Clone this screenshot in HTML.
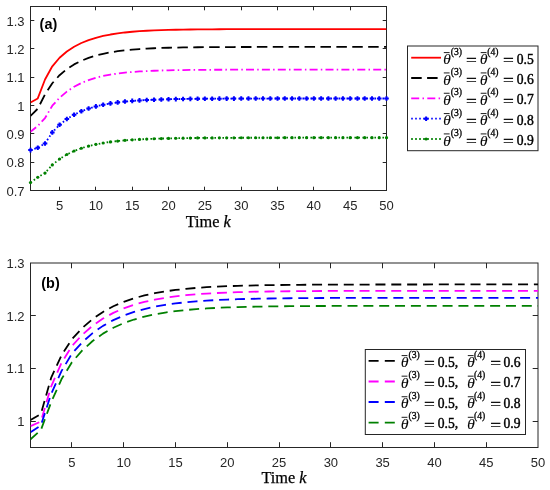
<!DOCTYPE html><html><head><meta charset="utf-8"><style>
html,body{margin:0;padding:0;background:#fff;}svg{display:block;}
.tl{font-family:"Liberation Sans",Arial,sans-serif;font-size:13px;fill:#262626;}
.lab{font-family:"Liberation Serif","Times New Roman",serif;font-size:16.3px;fill:#000;stroke:#000;stroke-width:0.25px;}
.pl{font-family:"Liberation Sans",Arial,sans-serif;font-size:14.4px;font-weight:bold;fill:#000;}
.lg{font-family:"Liberation Serif","Times New Roman",serif;font-size:13.6px;fill:#000;stroke:#000;stroke-width:0.4px;}
.th{font-family:"DejaVu Serif","Liberation Serif",serif;font-size:12.2px;font-style:italic;fill:#000;stroke:#000;stroke-width:0.2px;}
.sp{font-family:"Liberation Serif","Times New Roman",serif;font-size:9.7px;fill:#000;stroke:#000;stroke-width:0.3px;}
.eq{font-family:"Liberation Serif","Times New Roman",serif;font-size:13px;fill:#000;stroke:#000;stroke-width:0.25px;}
.it{font-style:italic;}
</style></head><body>
<svg width="550" height="490" viewBox="0 0 550 490">
<rect width="550" height="490" fill="#fff"/>
<defs><clipPath id="ca"><rect x="30.5" y="6.5" width="356.0" height="184.0"/></clipPath>
<clipPath id="cb"><rect x="30.5" y="263.0" width="507.5" height="184.5"/></clipPath></defs>
<path d="M59.50 190.50V186.70M59.50 6.50V10.30M95.50 190.50V186.70M95.50 6.50V10.30M132.50 190.50V186.70M132.50 6.50V10.30M168.50 190.50V186.70M168.50 6.50V10.30M204.50 190.50V186.70M204.50 6.50V10.30M241.50 190.50V186.70M241.50 6.50V10.30M277.50 190.50V186.70M277.50 6.50V10.30M313.50 190.50V186.70M313.50 6.50V10.30M350.50 190.50V186.70M350.50 6.50V10.30M30.50 190.50H34.30M386.50 190.50H382.70M30.50 162.50H34.30M386.50 162.50H382.70M30.50 133.50H34.30M386.50 133.50H382.70M30.50 105.50H34.30M386.50 105.50H382.70M30.50 77.50H34.30M386.50 77.50H382.70M30.50 48.50H34.30M386.50 48.50H382.70M30.50 20.50H34.30M386.50 20.50H382.70" stroke="#262626" stroke-width="1" fill="none"/>
<rect x="30.50" y="6.50" width="356.00" height="184.00" fill="none" stroke="#262626" stroke-width="1"/>
<text class="tl" x="24.6" y="195.50" text-anchor="end">0.7</text>
<text class="tl" x="24.6" y="167.19" text-anchor="end">0.8</text>
<text class="tl" x="24.6" y="138.88" text-anchor="end">0.9</text>
<text class="tl" x="24.6" y="110.58" text-anchor="end">1</text>
<text class="tl" x="24.6" y="82.27" text-anchor="end">1.1</text>
<text class="tl" x="24.6" y="53.96" text-anchor="end">1.2</text>
<text class="tl" x="24.6" y="25.65" text-anchor="end">1.3</text>
<text class="tl" x="59.56" y="209.60" text-anchor="middle">5</text>
<text class="tl" x="95.89" y="209.60" text-anchor="middle">10</text>
<text class="tl" x="132.21" y="209.60" text-anchor="middle">15</text>
<text class="tl" x="168.54" y="209.60" text-anchor="middle">20</text>
<text class="tl" x="204.87" y="209.60" text-anchor="middle">25</text>
<text class="tl" x="241.19" y="209.60" text-anchor="middle">30</text>
<text class="tl" x="277.52" y="209.60" text-anchor="middle">35</text>
<text class="tl" x="313.85" y="209.60" text-anchor="middle">40</text>
<text class="tl" x="350.17" y="209.60" text-anchor="middle">45</text>
<text class="tl" x="386.50" y="209.60" text-anchor="middle">50</text>
<text class="lab" x="208.20" y="226.80" text-anchor="middle">Time <tspan class="it">k</tspan></text>
<text class="pl" x="39.60" y="28.80">(a)</text>
<polyline points="30.50,102.49 37.77,98.42 45.03,79.47 52.30,66.30 59.56,57.72 66.83,51.48 74.09,46.72 81.36,43.00 88.62,40.08 95.89,37.77 103.15,35.95 110.42,34.51 117.68,33.37 124.95,32.48 132.21,31.77 139.48,31.20 146.74,30.76 154.01,30.41 161.28,30.13 168.54,29.91 175.81,29.74 183.07,29.60 190.34,29.50 197.60,29.41 204.87,29.34 212.13,29.29 219.40,29.25 226.66,29.22 233.93,29.19 241.19,29.17 248.46,29.15 255.72,29.14 262.99,29.13 270.26,29.12 277.52,29.11 284.79,29.11 292.05,29.10 299.32,29.10 306.58,29.10 313.85,29.10 321.11,29.10 328.38,29.09 335.64,29.09 342.91,29.09 350.17,29.09 357.44,29.09 364.70,29.09 371.97,29.09 379.23,29.09 386.50,29.09" fill="none" stroke="#ff0000" stroke-width="1.8" stroke-linejoin="round" clip-path="url(#ca)"/>
<polyline points="30.50,115.91 37.77,108.69 45.03,94.42 52.30,83.27 59.56,75.20 66.83,69.11 74.09,64.41 81.36,60.74 88.62,57.85 95.89,55.57 103.15,53.77 110.42,52.34 117.68,51.21 124.95,50.32 132.21,49.61 139.48,49.05 146.74,48.61 154.01,48.26 161.28,47.98 168.54,47.76 175.81,47.59 183.07,47.45 190.34,47.34 197.60,47.25 204.87,47.18 212.13,47.13 219.40,47.09 226.66,47.05 233.93,47.03 241.19,47.00 248.46,46.99 255.72,46.97 262.99,46.96 270.26,46.96 277.52,46.95 284.79,46.94 292.05,46.94 299.32,46.94 306.58,46.93 313.85,46.93 321.11,46.93 328.38,46.93 335.64,46.93 342.91,46.93 350.17,46.93 357.44,46.93 364.70,46.92 371.97,46.92 379.23,46.92 386.50,46.92" fill="none" stroke="#000" stroke-width="1.8" stroke-dasharray="10.5 5.4" stroke-dashoffset="0.7" stroke-linejoin="round" clip-path="url(#ca)"/>
<polyline points="30.50,131.79 37.77,125.96 45.03,118.03 52.30,105.73 59.56,97.79 66.83,91.60 74.09,86.77 81.36,83.00 88.62,80.06 95.89,77.77 103.15,75.98 110.42,74.58 117.68,73.49 124.95,72.64 132.21,71.98 139.48,71.46 146.74,71.06 154.01,70.74 161.28,70.50 168.54,70.31 175.81,70.16 183.07,70.04 190.34,69.95 197.60,69.88 204.87,69.82 212.13,69.78 219.40,69.75 226.66,69.72 233.93,69.70 241.19,69.68 248.46,69.67 255.72,69.66 262.99,69.65 270.26,69.65 277.52,69.64 284.79,69.64 292.05,69.64 299.32,69.63 306.58,69.63 313.85,69.63 321.11,69.63 328.38,69.63 335.64,69.63 342.91,69.63 350.17,69.63 357.44,69.63 364.70,69.63 371.97,69.63 379.23,69.63 386.50,69.63" fill="none" stroke="#ff00ff" stroke-width="1.8" stroke-dasharray="8 3.2 1.5 3.2" stroke-dashoffset="0.8" stroke-linejoin="round" clip-path="url(#ca)"/>
<polyline points="30.50,150.10 37.77,147.76 45.03,143.47 52.30,132.41 59.56,124.77 66.83,119.07 74.09,114.68 81.36,111.25 88.62,108.55 95.89,106.42 103.15,104.74 110.42,103.42 117.68,102.38 124.95,101.56 132.21,100.91 139.48,100.40 146.74,100.00 154.01,99.68 161.28,99.43 168.54,99.24 175.81,99.08 183.07,98.96 190.34,98.86 197.60,98.78 204.87,98.72 212.13,98.68 219.40,98.64 226.66,98.61 233.93,98.59 241.19,98.57 248.46,98.55 255.72,98.54 262.99,98.53 270.26,98.53 277.52,98.52 284.79,98.52 292.05,98.51 299.32,98.51 306.58,98.51 313.85,98.51 321.11,98.51 328.38,98.50 335.64,98.50 342.91,98.50 350.17,98.50 357.44,98.50 364.70,98.50 371.97,98.50 379.23,98.50 386.50,98.50" fill="none" stroke="#0000ff" stroke-width="1.8" stroke-dasharray="1.6 2.4" stroke-linejoin="round" clip-path="url(#ca)"/>
<polyline points="30.50,182.60 37.77,177.25 45.03,173.11 52.30,164.92 59.56,158.99 66.83,154.50 74.09,151.01 81.36,148.26 88.62,146.09 95.89,144.37 103.15,143.00 110.42,141.91 117.68,141.05 124.95,140.36 132.21,139.82 139.48,139.39 146.74,139.04 154.01,138.77 161.28,138.55 168.54,138.38 175.81,138.24 183.07,138.13 190.34,138.04 197.60,137.97 204.87,137.92 212.13,137.88 219.40,137.84 226.66,137.81 233.93,137.79 241.19,137.77 248.46,137.76 255.72,137.75 262.99,137.74 270.26,137.73 277.52,137.73 284.79,137.72 292.05,137.72 299.32,137.72 306.58,137.71 313.85,137.71 321.11,137.71 328.38,137.71 335.64,137.71 342.91,137.71 350.17,137.71 357.44,137.71 364.70,137.71 371.97,137.71 379.23,137.71 386.50,137.71" fill="none" stroke="#008000" stroke-width="1.8" stroke-dasharray="1.6 2.4" stroke-linejoin="round" clip-path="url(#ca)"/>
<path d="M28.20 150.10h4.6M30.50 147.80v4.6M35.47 147.76h4.6M37.77 145.46v4.6M42.73 143.47h4.6M45.03 141.17v4.6M50.00 132.41h4.6M52.30 130.11v4.6M57.26 124.77h4.6M59.56 122.47v4.6M64.53 119.07h4.6M66.83 116.77v4.6M71.79 114.68h4.6M74.09 112.38v4.6M79.06 111.25h4.6M81.36 108.95v4.6M86.32 108.55h4.6M88.62 106.25v4.6M93.59 106.42h4.6M95.89 104.12v4.6M100.85 104.74h4.6M103.15 102.44v4.6M108.12 103.42h4.6M110.42 101.12v4.6M115.38 102.38h4.6M117.68 100.08v4.6M122.65 101.56h4.6M124.95 99.26v4.6M129.91 100.91h4.6M132.21 98.61v4.6M137.18 100.40h4.6M139.48 98.10v4.6M144.44 100.00h4.6M146.74 97.70v4.6M151.71 99.68h4.6M154.01 97.38v4.6M158.98 99.43h4.6M161.28 97.13v4.6M166.24 99.24h4.6M168.54 96.94v4.6M173.51 99.08h4.6M175.81 96.78v4.6M180.77 98.96h4.6M183.07 96.66v4.6M188.04 98.86h4.6M190.34 96.56v4.6M195.30 98.78h4.6M197.60 96.48v4.6M202.57 98.72h4.6M204.87 96.42v4.6M209.83 98.68h4.6M212.13 96.38v4.6M217.10 98.64h4.6M219.40 96.34v4.6M224.36 98.61h4.6M226.66 96.31v4.6M231.63 98.59h4.6M233.93 96.29v4.6M238.89 98.57h4.6M241.19 96.27v4.6M246.16 98.55h4.6M248.46 96.25v4.6M253.42 98.54h4.6M255.72 96.24v4.6M260.69 98.53h4.6M262.99 96.23v4.6M267.96 98.53h4.6M270.26 96.23v4.6M275.22 98.52h4.6M277.52 96.22v4.6M282.49 98.52h4.6M284.79 96.22v4.6M289.75 98.51h4.6M292.05 96.21v4.6M297.02 98.51h4.6M299.32 96.21v4.6M304.28 98.51h4.6M306.58 96.21v4.6M311.55 98.51h4.6M313.85 96.21v4.6M318.81 98.51h4.6M321.11 96.21v4.6M326.08 98.50h4.6M328.38 96.20v4.6M333.34 98.50h4.6M335.64 96.20v4.6M340.61 98.50h4.6M342.91 96.20v4.6M347.87 98.50h4.6M350.17 96.20v4.6M355.14 98.50h4.6M357.44 96.20v4.6M362.40 98.50h4.6M364.70 96.20v4.6M369.67 98.50h4.6M371.97 96.20v4.6M376.93 98.50h4.6M379.23 96.20v4.6M384.20 98.50h4.6M386.50 96.20v4.6" stroke="#0000ff" stroke-width="2" fill="none"/>
<circle cx="30.50" cy="182.60" r="1.6" fill="#008000"/>
<circle cx="37.77" cy="177.25" r="1.6" fill="#008000"/>
<circle cx="45.03" cy="173.11" r="1.6" fill="#008000"/>
<circle cx="52.30" cy="164.92" r="1.6" fill="#008000"/>
<circle cx="59.56" cy="158.99" r="1.6" fill="#008000"/>
<circle cx="66.83" cy="154.50" r="1.6" fill="#008000"/>
<circle cx="74.09" cy="151.01" r="1.6" fill="#008000"/>
<circle cx="81.36" cy="148.26" r="1.6" fill="#008000"/>
<circle cx="88.62" cy="146.09" r="1.6" fill="#008000"/>
<circle cx="95.89" cy="144.37" r="1.6" fill="#008000"/>
<circle cx="103.15" cy="143.00" r="1.6" fill="#008000"/>
<circle cx="110.42" cy="141.91" r="1.6" fill="#008000"/>
<circle cx="117.68" cy="141.05" r="1.6" fill="#008000"/>
<circle cx="124.95" cy="140.36" r="1.6" fill="#008000"/>
<circle cx="132.21" cy="139.82" r="1.6" fill="#008000"/>
<circle cx="139.48" cy="139.39" r="1.6" fill="#008000"/>
<circle cx="146.74" cy="139.04" r="1.6" fill="#008000"/>
<circle cx="154.01" cy="138.77" r="1.6" fill="#008000"/>
<circle cx="161.28" cy="138.55" r="1.6" fill="#008000"/>
<circle cx="168.54" cy="138.38" r="1.6" fill="#008000"/>
<circle cx="175.81" cy="138.24" r="1.6" fill="#008000"/>
<circle cx="183.07" cy="138.13" r="1.6" fill="#008000"/>
<circle cx="190.34" cy="138.04" r="1.6" fill="#008000"/>
<circle cx="197.60" cy="137.97" r="1.6" fill="#008000"/>
<circle cx="204.87" cy="137.92" r="1.6" fill="#008000"/>
<circle cx="212.13" cy="137.88" r="1.6" fill="#008000"/>
<circle cx="219.40" cy="137.84" r="1.6" fill="#008000"/>
<circle cx="226.66" cy="137.81" r="1.6" fill="#008000"/>
<circle cx="233.93" cy="137.79" r="1.6" fill="#008000"/>
<circle cx="241.19" cy="137.77" r="1.6" fill="#008000"/>
<circle cx="248.46" cy="137.76" r="1.6" fill="#008000"/>
<circle cx="255.72" cy="137.75" r="1.6" fill="#008000"/>
<circle cx="262.99" cy="137.74" r="1.6" fill="#008000"/>
<circle cx="270.26" cy="137.73" r="1.6" fill="#008000"/>
<circle cx="277.52" cy="137.73" r="1.6" fill="#008000"/>
<circle cx="284.79" cy="137.72" r="1.6" fill="#008000"/>
<circle cx="292.05" cy="137.72" r="1.6" fill="#008000"/>
<circle cx="299.32" cy="137.72" r="1.6" fill="#008000"/>
<circle cx="306.58" cy="137.71" r="1.6" fill="#008000"/>
<circle cx="313.85" cy="137.71" r="1.6" fill="#008000"/>
<circle cx="321.11" cy="137.71" r="1.6" fill="#008000"/>
<circle cx="328.38" cy="137.71" r="1.6" fill="#008000"/>
<circle cx="335.64" cy="137.71" r="1.6" fill="#008000"/>
<circle cx="342.91" cy="137.71" r="1.6" fill="#008000"/>
<circle cx="350.17" cy="137.71" r="1.6" fill="#008000"/>
<circle cx="357.44" cy="137.71" r="1.6" fill="#008000"/>
<circle cx="364.70" cy="137.71" r="1.6" fill="#008000"/>
<circle cx="371.97" cy="137.71" r="1.6" fill="#008000"/>
<circle cx="379.23" cy="137.71" r="1.6" fill="#008000"/>
<circle cx="386.50" cy="137.71" r="1.6" fill="#008000"/>
<path d="M71.50 447.50V442.20M71.50 263.00V268.30M123.50 447.50V442.20M123.50 263.00V268.30M175.50 447.50V442.20M175.50 263.00V268.30M227.50 447.50V442.20M227.50 263.00V268.30M279.50 447.50V442.20M279.50 263.00V268.30M330.50 447.50V442.20M330.50 263.00V268.30M382.50 447.50V442.20M382.50 263.00V268.30M434.50 447.50V442.20M434.50 263.00V268.30M486.50 447.50V442.20M486.50 263.00V268.30M30.50 421.50H35.80M538.00 421.50H532.70M30.50 368.50H35.80M538.00 368.50H532.70M30.50 315.50H35.80M538.00 315.50H532.70" stroke="#262626" stroke-width="1" fill="none"/>
<rect x="30.50" y="263.00" width="507.50" height="184.50" fill="none" stroke="#262626" stroke-width="1"/>
<text class="tl" x="24.6" y="426.14" text-anchor="end">1</text>
<text class="tl" x="24.6" y="373.43" text-anchor="end">1.1</text>
<text class="tl" x="24.6" y="320.71" text-anchor="end">1.2</text>
<text class="tl" x="24.6" y="268.00" text-anchor="end">1.3</text>
<text class="tl" x="71.93" y="466.70" text-anchor="middle">5</text>
<text class="tl" x="123.71" y="466.70" text-anchor="middle">10</text>
<text class="tl" x="175.50" y="466.70" text-anchor="middle">15</text>
<text class="tl" x="227.29" y="466.70" text-anchor="middle">20</text>
<text class="tl" x="279.07" y="466.70" text-anchor="middle">25</text>
<text class="tl" x="330.86" y="466.70" text-anchor="middle">30</text>
<text class="tl" x="382.64" y="466.70" text-anchor="middle">35</text>
<text class="tl" x="434.43" y="466.70" text-anchor="middle">40</text>
<text class="tl" x="486.21" y="466.70" text-anchor="middle">45</text>
<text class="tl" x="538.00" y="466.70" text-anchor="middle">50</text>
<text class="lab" x="283.95" y="483.40" text-anchor="middle">Time <tspan class="it">k</tspan></text>
<text class="pl" x="41.30" y="288.20">(b)</text>
<polyline points="30.50,420.09 40.86,413.92 51.21,377.60 61.57,355.20 71.93,339.12 82.29,327.91 92.64,319.00 103.00,311.92 113.36,306.29 123.71,301.81 134.07,298.26 144.43,295.43 154.79,293.18 165.14,291.39 175.50,289.97 185.86,288.84 196.21,287.94 206.57,287.22 216.93,286.66 227.29,286.21 237.64,285.85 248.00,285.56 258.36,285.33 268.71,285.15 279.07,285.01 289.43,284.90 299.79,284.81 310.14,284.73 320.50,284.68 330.86,284.63 341.21,284.60 351.57,284.57 361.93,284.54 372.29,284.53 382.64,284.51 393.00,284.50 403.36,284.49 413.71,284.48 424.07,284.48 434.43,284.47 444.79,284.47 455.14,284.47 465.50,284.46 475.86,284.46 486.21,284.46 496.57,284.46 506.93,284.46 517.29,284.46 527.64,284.46 538.00,284.46" fill="none" stroke="#000" stroke-width="1.8" stroke-dasharray="10 5.844" stroke-dashoffset="0.4" stroke-linejoin="round" clip-path="url(#cb)"/>
<polyline points="30.50,426.10 40.86,421.51 51.21,386.30 61.57,362.79 71.93,346.02 82.29,334.70 92.64,325.70 103.00,318.54 113.36,312.85 123.71,308.32 134.07,304.73 144.43,301.87 154.79,299.60 165.14,297.79 175.50,296.35 185.86,295.21 196.21,294.30 206.57,293.58 216.93,293.01 227.29,292.55 237.64,292.19 248.00,291.90 258.36,291.67 268.71,291.49 279.07,291.34 289.43,291.23 299.79,291.14 310.14,291.06 320.50,291.00 330.86,290.96 341.21,290.92 351.57,290.89 361.93,290.87 372.29,290.85 382.64,290.84 393.00,290.83 403.36,290.82 413.71,290.81 424.07,290.80 434.43,290.80 444.79,290.79 455.14,290.79 465.50,290.79 475.86,290.79 486.21,290.79 496.57,290.78 506.93,290.78 517.29,290.78 527.64,290.78 538.00,290.78" fill="none" stroke="#ff00ff" stroke-width="1.8" stroke-dasharray="10 5.844" stroke-dashoffset="0.4" stroke-linejoin="round" clip-path="url(#cb)"/>
<polyline points="30.50,432.32 40.86,425.52 51.21,393.78 61.57,370.91 71.93,353.67 82.29,342.21 92.64,333.11 103.00,325.87 113.36,320.11 123.71,315.54 134.07,311.90 144.43,309.01 154.79,306.71 165.14,304.88 175.50,303.43 185.86,302.27 196.21,301.35 206.57,300.62 216.93,300.04 227.29,299.58 237.64,299.21 248.00,298.92 258.36,298.69 268.71,298.51 279.07,298.36 289.43,298.24 299.79,298.15 310.14,298.08 320.50,298.02 330.86,297.97 341.21,297.93 351.57,297.91 361.93,297.88 372.29,297.86 382.64,297.85 393.00,297.84 403.36,297.83 413.71,297.82 424.07,297.81 434.43,297.81 444.79,297.81 455.14,297.80 465.50,297.80 475.86,297.80 486.21,297.80 496.57,297.80 506.93,297.80 517.29,297.79 527.64,297.79 538.00,297.79" fill="none" stroke="#0000ff" stroke-width="1.8" stroke-dasharray="10 5.844" stroke-dashoffset="0.4" stroke-linejoin="round" clip-path="url(#cb)"/>
<polyline points="30.50,439.28 40.86,430.10 51.21,402.11 61.57,379.08 71.93,362.21 82.29,350.36 92.64,341.01 103.00,333.61 113.36,327.77 123.71,323.16 134.07,319.52 144.43,316.64 154.79,314.36 165.14,312.56 175.50,311.14 185.86,310.02 196.21,309.14 206.57,308.44 216.93,307.88 227.29,307.45 237.64,307.10 248.00,306.83 258.36,306.61 268.71,306.44 279.07,306.31 289.43,306.20 299.79,306.12 310.14,306.05 320.50,306.00 330.86,305.96 341.21,305.93 351.57,305.90 361.93,305.88 372.29,305.86 382.64,305.85 393.00,305.84 403.36,305.83 413.71,305.83 424.07,305.82 434.43,305.82 444.79,305.82 455.14,305.81 465.50,305.81 475.86,305.81 486.21,305.81 496.57,305.81 506.93,305.81 517.29,305.81 527.64,305.81 538.00,305.81" fill="none" stroke="#008000" stroke-width="1.8" stroke-dasharray="10 5.844" stroke-dashoffset="0.4" stroke-linejoin="round" clip-path="url(#cb)"/>
<rect x="407.5" y="46.0" width="130.5" height="104.7" fill="#fff" stroke="#262626" stroke-width="1"/>
<line x1="411.2" y1="57.7" x2="441.0" y2="57.7" stroke="#ff0000" stroke-width="1.8"/>
<line x1="411.2" y1="78.0" x2="441.0" y2="78.0" stroke="#000" stroke-width="1.8" stroke-dasharray="10.5 5.4"/>
<line x1="411.2" y1="98.3" x2="441.0" y2="98.3" stroke="#ff00ff" stroke-width="1.8" stroke-dasharray="8 3.3 1.5 3.3"/>
<line x1="411.2" y1="118.7" x2="441.0" y2="118.7" stroke="#0000ff" stroke-width="1.8" stroke-dasharray="1.6 2.4"/>
<path d="M423.80 118.70h4.6M426.10 116.40v4.6" stroke="#0000ff" stroke-width="2"/>
<line x1="411.2" y1="139.0" x2="441.0" y2="139.0" stroke="#008000" stroke-width="1.8" stroke-dasharray="1.6 2.4"/>
<circle cx="426.1" cy="139.00" r="1.6" fill="#008000"/>
<text class="th" x="443.40" y="64.20">θ</text>
<line x1="443.80" y1="52.60" x2="449.60" y2="52.60" stroke="#000" stroke-width="0.9"/>
<text class="sp" x="450.70" y="54.70">(3)</text>
<text class="eq" transform="translate(465.92,65.10) scale(1.475,1.2)">=</text>
<text class="th" x="480.30" y="64.20">θ</text>
<line x1="480.70" y1="52.60" x2="486.50" y2="52.60" stroke="#000" stroke-width="0.9"/>
<text class="sp" x="487.20" y="54.70">(4)</text>
<text class="eq" transform="translate(503.12,65.10) scale(1.475,1.2)">=</text>
<text class="lg" x="516.80" y="63.70">0.5</text>
<text class="th" x="443.40" y="84.53">θ</text>
<line x1="443.80" y1="72.93" x2="449.60" y2="72.93" stroke="#000" stroke-width="0.9"/>
<text class="sp" x="450.70" y="75.03">(3)</text>
<text class="eq" transform="translate(465.92,85.43) scale(1.475,1.2)">=</text>
<text class="th" x="480.30" y="84.53">θ</text>
<line x1="480.70" y1="72.93" x2="486.50" y2="72.93" stroke="#000" stroke-width="0.9"/>
<text class="sp" x="487.20" y="75.03">(4)</text>
<text class="eq" transform="translate(503.12,85.43) scale(1.475,1.2)">=</text>
<text class="lg" x="516.80" y="84.03">0.6</text>
<text class="th" x="443.40" y="104.86">θ</text>
<line x1="443.80" y1="93.26" x2="449.60" y2="93.26" stroke="#000" stroke-width="0.9"/>
<text class="sp" x="450.70" y="95.36">(3)</text>
<text class="eq" transform="translate(465.92,105.76) scale(1.475,1.2)">=</text>
<text class="th" x="480.30" y="104.86">θ</text>
<line x1="480.70" y1="93.26" x2="486.50" y2="93.26" stroke="#000" stroke-width="0.9"/>
<text class="sp" x="487.20" y="95.36">(4)</text>
<text class="eq" transform="translate(503.12,105.76) scale(1.475,1.2)">=</text>
<text class="lg" x="516.80" y="104.36">0.7</text>
<text class="th" x="443.40" y="125.19">θ</text>
<line x1="443.80" y1="113.59" x2="449.60" y2="113.59" stroke="#000" stroke-width="0.9"/>
<text class="sp" x="450.70" y="115.69">(3)</text>
<text class="eq" transform="translate(465.92,126.09) scale(1.475,1.2)">=</text>
<text class="th" x="480.30" y="125.19">θ</text>
<line x1="480.70" y1="113.59" x2="486.50" y2="113.59" stroke="#000" stroke-width="0.9"/>
<text class="sp" x="487.20" y="115.69">(4)</text>
<text class="eq" transform="translate(503.12,126.09) scale(1.475,1.2)">=</text>
<text class="lg" x="516.80" y="124.69">0.8</text>
<text class="th" x="443.40" y="145.52">θ</text>
<line x1="443.80" y1="133.92" x2="449.60" y2="133.92" stroke="#000" stroke-width="0.9"/>
<text class="sp" x="450.70" y="136.02">(3)</text>
<text class="eq" transform="translate(465.92,146.42) scale(1.475,1.2)">=</text>
<text class="th" x="480.30" y="145.52">θ</text>
<line x1="480.70" y1="133.92" x2="486.50" y2="133.92" stroke="#000" stroke-width="0.9"/>
<text class="sp" x="487.20" y="136.02">(4)</text>
<text class="eq" transform="translate(503.12,146.42) scale(1.475,1.2)">=</text>
<text class="lg" x="516.80" y="145.02">0.9</text>
<rect x="365.3" y="349.5" width="160.2" height="85.0" fill="#fff" stroke="#262626" stroke-width="1"/>
<line x1="368.6" y1="360.90" x2="394.8" y2="360.90" stroke="#000" stroke-width="1.8" stroke-dasharray="10 6.2"/>
<text class="th" x="401.20" y="367.20">θ</text>
<line x1="401.60" y1="355.60" x2="407.40" y2="355.60" stroke="#000" stroke-width="0.9"/>
<text class="sp" x="408.50" y="357.70">(3)</text>
<text class="eq" transform="translate(424.12,368.10) scale(1.475,1.2)">=</text>
<text class="lg" x="437.80" y="366.70">0.5,</text>
<text class="th" x="467.40" y="367.20">θ</text>
<line x1="467.80" y1="355.60" x2="473.60" y2="355.60" stroke="#000" stroke-width="0.9"/>
<text class="sp" x="474.00" y="357.70">(4)</text>
<text class="eq" transform="translate(490.22,368.10) scale(1.475,1.2)">=</text>
<text class="lg" x="503.50" y="366.70">0.6</text>
<line x1="368.6" y1="381.50" x2="394.8" y2="381.50" stroke="#ff00ff" stroke-width="1.8" stroke-dasharray="10 6.2"/>
<text class="th" x="401.20" y="387.77">θ</text>
<line x1="401.60" y1="376.17" x2="407.40" y2="376.17" stroke="#000" stroke-width="0.9"/>
<text class="sp" x="408.50" y="378.27">(3)</text>
<text class="eq" transform="translate(424.12,388.67) scale(1.475,1.2)">=</text>
<text class="lg" x="437.80" y="387.27">0.5,</text>
<text class="th" x="467.40" y="387.77">θ</text>
<line x1="467.80" y1="376.17" x2="473.60" y2="376.17" stroke="#000" stroke-width="0.9"/>
<text class="sp" x="474.00" y="378.27">(4)</text>
<text class="eq" transform="translate(490.22,388.67) scale(1.475,1.2)">=</text>
<text class="lg" x="503.50" y="387.27">0.7</text>
<line x1="368.6" y1="402.00" x2="394.8" y2="402.00" stroke="#0000ff" stroke-width="1.8" stroke-dasharray="10 6.2"/>
<text class="th" x="401.20" y="408.34">θ</text>
<line x1="401.60" y1="396.74" x2="407.40" y2="396.74" stroke="#000" stroke-width="0.9"/>
<text class="sp" x="408.50" y="398.84">(3)</text>
<text class="eq" transform="translate(424.12,409.24) scale(1.475,1.2)">=</text>
<text class="lg" x="437.80" y="407.84">0.5,</text>
<text class="th" x="467.40" y="408.34">θ</text>
<line x1="467.80" y1="396.74" x2="473.60" y2="396.74" stroke="#000" stroke-width="0.9"/>
<text class="sp" x="474.00" y="398.84">(4)</text>
<text class="eq" transform="translate(490.22,409.24) scale(1.475,1.2)">=</text>
<text class="lg" x="503.50" y="407.84">0.8</text>
<line x1="368.6" y1="422.60" x2="394.8" y2="422.60" stroke="#008000" stroke-width="1.8" stroke-dasharray="10 6.2"/>
<text class="th" x="401.20" y="428.91">θ</text>
<line x1="401.60" y1="417.31" x2="407.40" y2="417.31" stroke="#000" stroke-width="0.9"/>
<text class="sp" x="408.50" y="419.41">(3)</text>
<text class="eq" transform="translate(424.12,429.81) scale(1.475,1.2)">=</text>
<text class="lg" x="437.80" y="428.41">0.5,</text>
<text class="th" x="467.40" y="428.91">θ</text>
<line x1="467.80" y1="417.31" x2="473.60" y2="417.31" stroke="#000" stroke-width="0.9"/>
<text class="sp" x="474.00" y="419.41">(4)</text>
<text class="eq" transform="translate(490.22,429.81) scale(1.475,1.2)">=</text>
<text class="lg" x="503.50" y="428.41">0.9</text>
</svg></body></html>
